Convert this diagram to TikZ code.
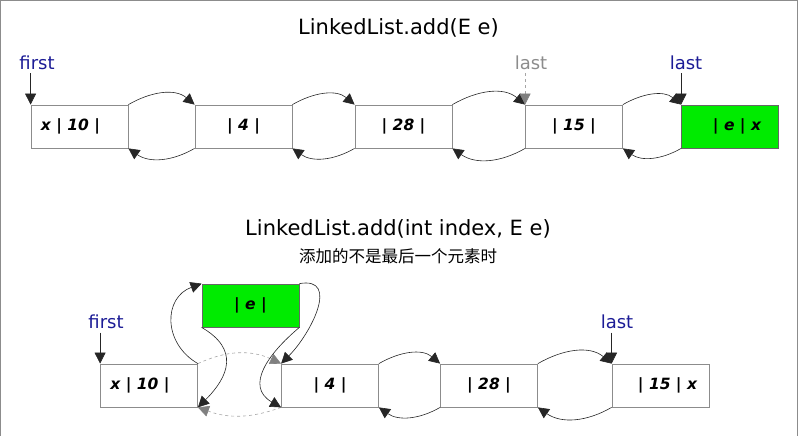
\documentclass[tikz,border=0pt]{standalone}
\usepackage{fontspec}
\setmainfont{DejaVu Sans}
\newfontfamily\cjk{Noto Sans CJK SC}
\usetikzlibrary{arrows.meta}
\usetikzlibrary{positioning}

\definecolor{boxgray}{RGB}{140,140,140}
\definecolor{ptrblue}{RGB}{28,28,150}
\definecolor{newgreen}{RGB}{0,235,0}

\tikzset{
  cell/.style={draw=boxgray, line width=0.8pt, minimum width=97pt, minimum height=43pt, inner sep=0pt,
    font=\bfseries\itshape\fontsize{15.5}{18}\selectfont},
  newcell/.style={cell, fill=newgreen, draw=black!60},
  link/.style={draw=black!85, line width=0.6pt, -{Triangle[length=11pt,width=11pt]}},
  oldlink/.style={draw=black!35, line width=0.6pt, dashed, -{Triangle[length=11pt,width=11pt,fill=gray,color=gray]}},
  ptr/.style={text=ptrblue, font=\fontsize{18}{21}\selectfont},
  title/.style={font=\fontsize{21}{25}\selectfont}
}

\begin{document}
\begin{tikzpicture}[x=1pt,y=1pt]
\useasboundingbox (0,0) rectangle (800,-436);
\draw[boxgray, line width=1pt] (0.5,-436) -- (0.5,-1) -- (797,-1) -- (797,-436);

% add at the end
\node[title] (title1) at (398.5,-28) {LinkedList.add(E e)};

\node[cell] (t1) at (79.5,-126.5) {x | 10 |\rule{18pt}{0pt}};
\node[cell] (t2) at (243.5,-126.5) {| 4 |};
\node[cell] (t3) at (403.5,-126.5) {| 28 |};
\node[cell] (t4) at (574,-126.5) {| 15 |};
\node[newcell] (t5) at (730,-126.5) {\hspace{14pt}| e | x};

\node[ptr] (first1) at (37,-63) {first};
\node[ptr, text=boxgray] (oldlast1) at (531,-63) {last};
\node[ptr] (last1) at (686,-63) {last};

\draw[link] (t1.north east) to[out=30,in=140] (t2.north west);
\draw[link] (t2.south west) to[out=-150,in=-35] (t1.south east);
\draw[link] (t2.north east) to[out=30,in=140] (t3.north west);
\draw[link] (t3.south west) to[out=-150,in=-35] (t2.south east);
\draw[link] (t3.north east) to[out=30,in=140] (t4.north west);
\draw[link] (t4.south west) to[out=-150,in=-35] (t3.south east);
\draw[link] (t4.north east) to[out=30,in=140] (t5.north west);
\draw[link] (t5.south west) to[out=-150,in=-35] (t4.south east);

\draw[link] (t1.north west |- first1.south) -- (t1.north west);
\draw[oldlink] (t4.north west |- oldlast1.south) -- (t4.north west);
\draw[link] (t5.north west |- last1.south) -- (t5.north west);

% add in the middle
\node[title] (title2) at (398,-229) {LinkedList.add(int index, E e)};
\node[font=\cjk\fontsize{16.5}{19}\selectfont] (sub2) at (398,-256) {添加的不是最后一个元素时};

\node[cell] (b1) at (149,-385.5) {x | 10 |\rule{18pt}{0pt}};
\node[newcell] (be) at (250.5,-305.5) {| e |};
\node[cell] (b2) at (330,-385.5) {| 4 |};
\node[cell] (b3) at (489,-385.5) {| 28 |};
\node[cell] (b4) at (660.5,-385.5) {\hspace{14pt}| 15 | x};

\node[ptr] (first2) at (106,-322) {first};
\node[ptr] (last2) at (617,-322) {last};

\draw[oldlink] (b1.north east) to[out=25,in=155] (b2.north west);
\draw[oldlink] (b2.south west) to[out=-160,in=-20] (b1.south east);

\draw[link] (b1.north east) to[out=150,in=200,looseness=1.3] (be.north west);
\draw[link] (be.south west) to[out=-30,in=45,looseness=1.4] (b1.south east);
\draw[link] (be.north east) to[out=10,in=45,looseness=1.3] (b2.north west);
\draw[link] (be.south east) to[out=-140,in=150,looseness=1.3] (b2.south west);

\draw[link] (b2.north east) to[out=30,in=140] (b3.north west);
\draw[link] (b3.south west) to[out=-150,in=-35] (b2.south east);
\draw[link] (b3.north east) to[out=30,in=140] (b4.north west);
\draw[link] (b4.south west) to[out=-150,in=-35] (b3.south east);

\draw[link] (b1.north west |- first2.south) -- (b1.north west);
\draw[link] (b4.north west |- last2.south) -- (b4.north west);
\end{tikzpicture}
\end{document}
